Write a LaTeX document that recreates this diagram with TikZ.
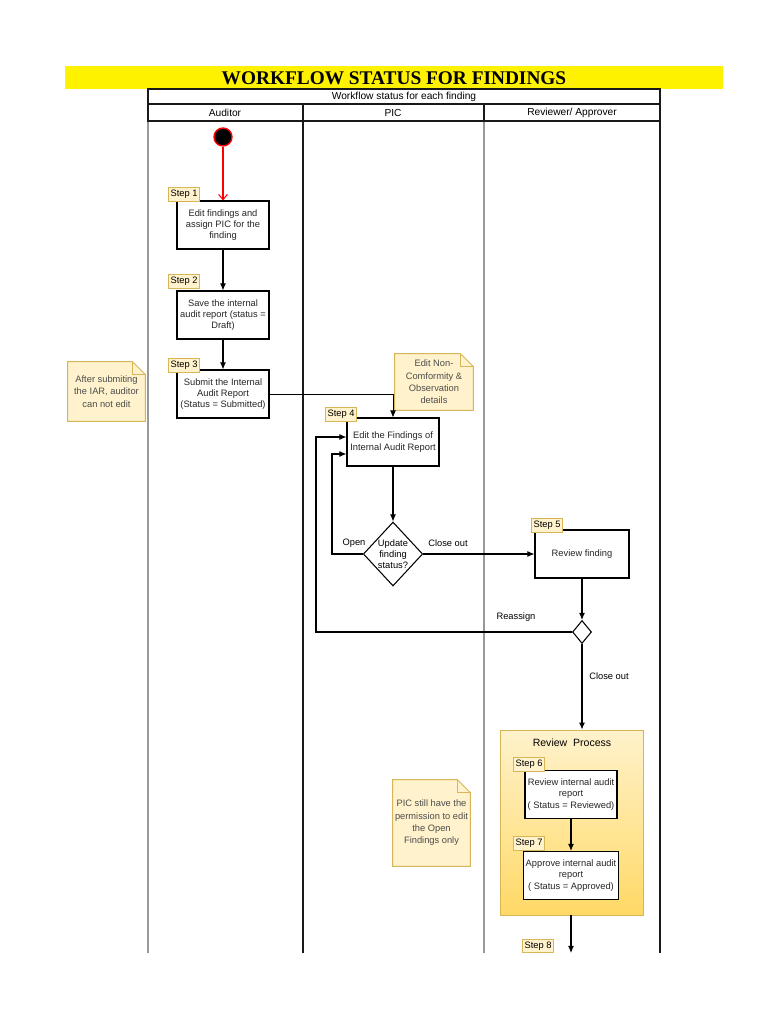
\documentclass[tikz,border=0pt]{standalone}
\usepackage{fontspec}
\setmainfont{Liberation Sans}
\newfontfamily\titlefont{Liberation Serif}
\usepackage{tikz}
\usetikzlibrary{arrows.meta}
\usetikzlibrary{shapes.geometric}
\usetikzlibrary{calc,backgrounds}

\definecolor{notefill}{HTML}{FFF2CC}
\definecolor{noteline}{HTML}{D6B656}
\definecolor{groupfill}{HTML}{FFD966}

\begin{document}
\begin{tikzpicture}[x=0.02cm,y=-0.02cm,
  every node/.style={font=\fontsize{5.3}{6.4}\selectfont},
  task/.style={draw,line width=0.6pt,fill=white,text=black!85,align=center,minimum width=1.84cm,minimum height=0.96cm,inner sep=1pt},
  tag/.style={draw=noteline,fill=notefill,line width=0.5pt,minimum width=0.62cm,minimum height=0.28cm,inner sep=0.5pt},
  note/.style={align=center,text=black!70,inner sep=1pt,font=\fontsize{5.3}{7}\selectfont},
  notebox/.style={draw=noteline,fill=notefill,line width=0.5pt},
  decision/.style={diamond,draw,line width=0.6pt,fill=white,align=center,inner sep=0pt,minimum width=1.12cm,minimum height=1.28cm},
  flow/.style={line width=0.6pt,-{Latex[length=4pt,width=3.4pt]}},
  lane/.style={line width=0.7pt,black!90},
  lane light/.style={line width=0.8pt,black!40},
  hdr/.style={font=\fontsize{5.8}{7}\selectfont}]
  \useasboundingbox (0,0) rectangle (768,1024);

  % title banner
  \fill[yellow] (65,66) rectangle (723,89);
  \node[font=\titlefont\bfseries\fontsize{11}{13}\selectfont] (title) at (394,78) {WORKFLOW STATUS FOR FINDINGS};

  % swimlanes
  \draw[lane light] (148,121) -- (148,953);
  \draw[lane light] (484,121) -- (484,953);
  \draw[lane,line width=0.8pt] (303,121) -- (303,953);
  \draw[lane] (660,121) -- (660,953);
  \draw[lane] (148,121) -- (148,89) -- (660,89) -- (660,121) -- cycle;
  \draw[lane] (148,104) -- (660,104);
  \draw[lane] (303,104) -- (303,121) (484,104) -- (484,121);
  \node[hdr] (lanes) at (404,97) {Workflow status for each finding};
  \node[hdr] (auditor) at (225,113) {Auditor};
  \node[hdr] (pic) at (393,113) {PIC};
  \node[hdr] (approver) at (572,113) {Reviewer/ Approver};

  % auditor
  \node[circle,fill=black,draw=red,line width=0.8pt,minimum size=0.36cm,inner sep=0pt] (start) at (223,137) {};
  \node[task] (edit) at (223,225) {Edit findings and\\assign PIC for the\\finding};
  \node[task] (save) at (223,315) {Save the internal\\audit report (status =\\Draft)};
  \node[task] (submit) at (223,394) {Submit the Internal\\Audit Report\\(Status = Submitted)};
  \node[tag] (s1) at (184,194) {Step 1};
  \node[tag] (s2) at (184,281) {Step 2};
  \node[tag] (s3) at (184,365) {Step 3};
  \node[note,minimum width=1.54cm,minimum height=1.18cm] (n1) at (106.5,391.5) {After submiting\\the IAR, auditor\\can not edit};

  % PIC
  \node[task] (findings) at (393,442) {Edit the Findings of\\Internal Audit Report};
  \node[tag] (s4) at (341,414) {Step 4};
  \node[note,minimum width=1.56cm,minimum height=1.12cm] (n2) at (434,382) {Edit Non-\\Comformity \&\\Observation\\details};
  \node[decision] (update) at (393,554) {Update\\finding\\status?};
  \node[note,minimum width=1.54cm,minimum height=1.72cm] (n3) at (431.5,823) {PIC still have the\\permission to edit\\the Open\\Findings only};

  % reviewer
  \node[task,minimum width=1.88cm] (review) at (582,554) {Review finding};
  \node[tag] (s5) at (547,525) {Step 5};
  \node[diamond,draw,line width=0.6pt,fill=white,inner sep=0pt,minimum width=0.38cm,minimum height=0.46cm] (check) at (582,632) {};
  \node[draw=noteline,top color=notefill,bottom color=groupfill,line width=0.5pt,minimum width=2.86cm,minimum height=3.7cm] (group) at (571.5,822.5) {};
  \node[font=\fontsize{6}{7}\selectfont] (grouptitle) at (572,743) {Review~ Process};
  \node[task] (reviewrep) at (571,794.5) {Review internal audit\\report\\( Status = Reviewed)};
  \node[task] (approve) at (571,875.5) {Approve internal audit\\report\\( Status = Approved)};
  \node[tag] (s6) at (529,764) {Step 6};
  \node[tag] (s7) at (529,843) {Step 7};
  \node[tag,minimum height=0.26cm] (s8) at (538,946) {Step 8};
  \coordinate (out) at (571,953);

  % sticky notes behind their text
  \begin{scope}[on background layer]
    \foreach \n in {n1,n2,n3} {
      \filldraw[notebox] (\n.south west) -- (\n.north west) -- ([xshift=-0.26cm]\n.north east)
        -- ([yshift=-0.26cm]\n.north east) -- (\n.south east) -- cycle;
      \draw[notebox,fill=none] ([xshift=-0.26cm]\n.north east) |- ([yshift=-0.26cm]\n.north east);
    }
  \end{scope}

  % connectors
  \draw[red,line width=0.6pt,-{Straight Barb[length=3pt,width=5pt]}] (start) -- (edit);
  \draw[flow] (edit) -- (save);
  \draw[flow] (save) -- (submit);
  \draw[flow,line width=0.5pt] (submit.east) -| (findings.north);
  \draw[flow] (findings) -- (update);
  \draw[flow] (update.west) -| (332,454) -- ($(findings.west)+(0,12)$);
  \draw[flow] (update.east) -- (review.west);
  \draw[flow] (review) -- (check);
  \draw[flow] (check.west) -| (316,437) -- ($(findings.west)+(0,-5)$);
  \draw[flow] (check) -- (check |- group.north);
  \draw[flow] (reviewrep) -- (approve);
  \draw[flow] (approve.south |- group.south) -- (out);
  \node (open) at (354,543) {Open};
  \node (closeout) at (448,543) {Close out};
  \node (reassign) at (516,617) {Reassign};
  \node (closed) at (609,676) {Close out};
\end{tikzpicture}
\end{document}
